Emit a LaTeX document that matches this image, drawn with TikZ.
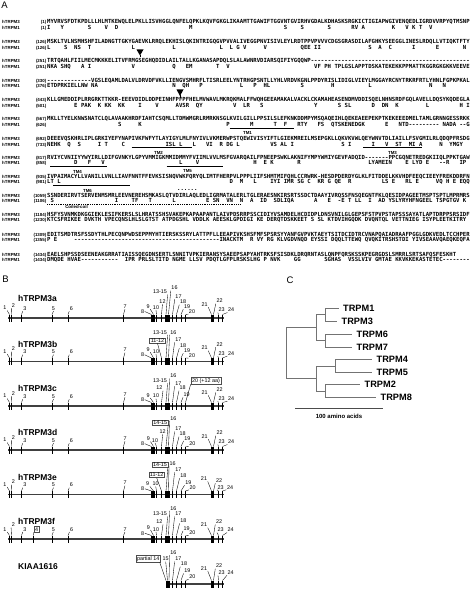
\documentclass[tikz,border=0pt]{standalone}
\usepackage{fontspec}
\setmainfont{Liberation Sans}
\newfontfamily\seqfam{DejaVu Sans Mono}[Ligatures=TeXOff]

% one block of the alignment: id, baselines, start numbers, hTRPM3 residues, hTRPM1 differences
\newcommand\seqrow[7]{%
  \node[rowlab] (#1-t3) at (2,#2) {hTRPM3};
  \node[rowlab] (#1-t1) at (2,#3) {hTRPM1};
  \node[numlab] (#1-n3) at (46.5,#2) {(#4)};
  \node[numlab] (#1-n1) at (46.5,#3) {(#5)};
  \node[seq] (#1-m3) at (47,#2) {#6};
  \foreach \i/\seg in {#7}
    \node[seq] (#1-d\i) at (47+3.38*\i,#3) {\seg};
}
% gene line with exons, exon tops named id-k
\newcommand\genrow[2]{%
  \draw[gene] (8,#2) -- (224,#2);
  \foreach \k/\x in {1/9.5,2/11.5,3/21.5,5/52,6/68,7/123.5,8/151.5,9/153.5,10/156.5,12/161.5,13/166,16/168.5,17/172.5,18/176.5,19/181,20/185.5,21/211.5,22/213.5,23/218.5,24/222.5}
    {\coordinate (#1-\k) at (\x,#2-3.5);}
  \foreach \x in {9.5,11.5,21.5,52,68,123.5,156.5,161.5,172.5,176.5,181,185.5,218.5,222.5}
    {\draw[exon] (\x,#2-3.5) -- (\x,#2+3.5);}
  \fill (150.7,#2-3.5) rectangle (154.5,#2+3.5);
  \fill (165,#2-3.5) rectangle (169.5,#2+3.5);
  \fill (210.7,#2-3.5) rectangle (214.3,#2+3.5);
}
% exon numbers: key/text/x/dy/anchor
\newcommand\exlab[3]{%
  \foreach \k/\lbl/\x/\dy/\an in {#3}
    {\node[exnum] (#1-l\k) at (\x,#2+\dy) {\lbl};
     \draw[lead] (#1-\k) -- (#1-l\k.\an);}
}
\newcommand\leftlabs[2]{\exlab{#1}{#2}{1/1/5/-10/south east,2/2/13.5/-12.5/south west,3/3/25/-9.5/south west,5/5/53.5/-9.5/south,6/6/71.5/-9.5/south west,7/7/125/-11.5/south}}

\begin{document}
\begin{tikzpicture}[x=1pt,y=-1pt,
  panel/.style={font=\fontsize{9.5}{9.5}\selectfont, inner sep=0pt},
  seq/.style={font=\seqfam\bfseries\fontsize{5.615}{6}\selectfont, inner sep=0pt, anchor=base west},
  rowlab/.style={font=\bfseries\fontsize{4.4}{4.4}\selectfont, inner sep=0pt, anchor=base west},
  numlab/.style={rowlab, anchor=base east},
  tmlab/.style={font=\bfseries\fontsize{4.4}{4.4}\selectfont, inner sep=0pt},
  uline/.style={line width=0.6pt},
  gene/.style={line width=1.6pt, black!75},
  exon/.style={line width=0.8pt},
  lead/.style={line width=0.35pt},
  exnum/.style={font=\fontsize{5.4}{5.4}\selectfont, inner sep=0.5pt},
  exbox/.style={exnum, draw=black!70, line width=0.4pt, inner xsep=1.2pt, inner ysep=0.8pt},
  iso/.style={font=\bfseries\fontsize{8.5}{8.5}\selectfont, anchor=west, inner sep=0pt},
  branch/.style={draw=black!55, line width=0.6pt},
  leaf/.style={font=\bfseries\fontsize{9.2}{9.2}\selectfont, anchor=west, inner xsep=4.5pt, inner ysep=0pt}]
\useasboundingbox (0,0) rectangle (474,591);

% ---------------- panel A: alignment
\node[panel] (A) at (4.5,5) {A};
\seqrow{r1}{23.7}{29.3}{1}{1}{MYVRVSFDTKPDLLLHLMTKEWQLELPKLLISVHGGLQNFELQPKLKQVFGKGLIKAAMTTGAWIFTGGVNTGVIRHVGDALKDHASKSRGKICTIGIAPWGIVENQEDLIGRDVVRPYQTMSNP}{0/I,4/Y,12/S,17/V,20/D,42/M,70/S,75/S,83/S,90/RV,93/A,102/K,106/V,108/K,110/T,113/V}
\seqrow{r2}{43.7}{49.3}{126}{126}{MSKLTVLNSMHSHFILADNGTTGKYGAEVKLRRQLEKHISLQKINTRIGQGVPVVALIVEGGPNVISIVLEYLRDTPPVPVVVCDGSGRASDILAFGHKYSEEGGLINESLRDQLLVTIQKTFTY}{0/L,5/S,8/NS,12/T,25/L,37/L,51/L,54/L,56/G,58/V,64/V,75/QEE,79/II,95/S,98/A,101/C,108/I,115/E,123/N}
\seqrow{r3}{63}{68.7}{251}{251}{TRTQAHLFIILMECMKKKELITVFRMGSEGHQDIDLAILTALLKGANASAPDQLSLALAWNRVDIARSQIFIYGQQWP-----------------------------------------------}{0/NKA,4/SHQ,10/A,12/I,25/V,37/Q,41/EM,50/T,53/V,79/VF,82/PH,85/TPLGSLAPPTDSKATEKEKKPPMATTKGGRGKGKKVEEVE}
\seqrow{r4}{82.3}{88}{330}{376}{-------------VGSLEQAMLDALVLDRVDFVKLLIENGVSMHRFLTISRLEELYNTRHGPSNTLLYHLVRDVKGNLPPDYRISLIDIGLVIEYLMGGAYRCNYTRKRFRTLYHNLFGPKPKAL}{0/ETDPRKIELLNW,13/NA,37/N,40/QH,45/P,57/L,61/P,64/HL,75/S,84/H,95/L,113/N,117/N}
\seqrow{r5}{102}{107.7}{443}{501}{KLLGMEDDIPLRRGRKTTKKR-EEEVDIDLDDPEINHFPFPFHELMVWAVLMKRQKMALFFWQHGEEAMAKALVACKLCKAMAHEASENDMVDDISQELNHNSRDFGQLAVELLDQSYKQDEGLA}{8/E,10/PAK,15/K,17/KK,21/KK,27/I,32/V,38/AVSR,44/QY,55/V,58/LR,63/S,79/Y,86/S,88/SL,96/D,99/DN,103/K,112/L,122/H,124/I}
\seqrow{r6}{121}{127}{567}{626}{MKLLTYELKNWSNATCLQLAVAAKHRDFIAHTCSQMLLTDMWMGRLRMRKNSGLKVILGILLPPSILSLEFKNKDDMPYMSQAQEIHLQEKEAEEPEKPTKEKEEEDMELTAMLGRNNGESSRKK}{21/S,27/K,53/P,60/M,67/T,70/F,74/RTY,80/FS,84/QTSKENEDGK,100/E,104/NTD---------,117/NADA,122/--,124/G}
\seqrow{r7}{140.3}{146.3}{692}{733}{DEEEVQSKHRLIPLGRKIYEFYNAPIVKFWFYTLAYIGYLMLFNYIVLVKMERWPSTQEWIVISYIFTLGIEKMREILMSEPGKLLQKVKVWLQEYWNVTDLIAILLFSVGMILRLQDQPFRSDG}{0/NEHK,6/Q,9/S,15/I,17/T,22/C,35/ISL,39/L,43/L,47/VI,51/R,53/DG,56/L,66/VS,69/AL,72/I,87/S,89/I,96/I,100/V,103/ST,107/MI,110/A,116/N,119/YMGY}
\seqrow{r8}{159}{164.7}{817}{858}{RVIYCVNIIYYWYIRLLDIFGVNKYLGPYVMMIGKMMIDMMYFVIIMLVVLMSFGVARQAILFPNEEPSWKLAKNIFYMPYWMIYGEVFADQID-------PPCGQNETREDGKIIQLPPKTGAW}{8/D,12/F,16/V,39/L,44/V,61/H,64/E,66/K,74/R,95/LYAMEIN,106/E,108/LYD,112/E,116/--R,122/IP}
\seqrow{r9}{178}{183.7}{935}{981}{IVPAIMACYLLVANILLVNLLIAVFNNTFFEVKSISNQVWKFQRYQLIMTFHERPVLPPPLIIFSHMTMIFQHLCCRWRK-HESDPDERDYGLKLFITDDELKKVHDFEEQCIEEYFREKDDRFN}{0/LT,3/L,54/D,57/M,61/L,66/IYI,70/IMR,74/SG,77/C,80/KR,83/G,85/QE,89/R,99/LS,102/E,106/RL,109/E,115/VQ,118/H,120/E,122/EQQ}
\seqrow{r10}{197}{202.7}{1059}{1106}{SSNDERIRVTSERVENMSMRLEEVNEREHSMKASLQTVDIRLAQLEDLIGRMATALERLTGLERAESNKIRSRTSSDCTDAAYIVRQSSFNSQEGNTFKLQESIDPAGEETMSPTSPTLMPRMRS}{1/S,20/I,25/TF,30/T,37/L,47/E,49/SN,53/VN,57/N,60/A,63/ID,67/SDLIQA,79/A,83/E,86/-E,89/T,91/LL,95/I,98/AD,101/YSLYRYHFNGEEL,115/TSPGTGV,123/K}
\seqrow{r11}{216}{221.3}{1184}{1230}{HSFYSVNMKDKGGIEKLESIFKERSLSLHRATSSHSVAKEPKAPAAPANTLAIVPDSRRPSSCIDIYVSAMDELHCDIDPLDNSVNILGLGEPSFSTPVPSTAPSSSAYATLAPTDRPPSRSIDF}{0/KTCSFRIKEE,11/DVKTH,17/VPECQNSLHLSLGTST,34/ATPDGSHL,43/VDDLK,49/AEESKLGPDIGI,62/KE,65/DERQTDSKKEET,78/S,80/SL,83/KTDVIHGQDK,94/DVQNTQL,102/VETTNIEG,111/ISYPLEETKITRY}
\seqrow{r12}{236}{241.3}{1309}{1355}{EDITSMDTRSFSSDYTHLPECQNPWDSEPPMYHTIERSKSSRYLATTPFLLEEAPIVKSHSFMFSPSRSYYANFGVPVKTAEYTSITDCIDTRCVNAPQAIADRAAFPGGLGDKVEDLTCCHPER}{0/P,2/E,8/-------------------------------------------,51/INACKTM,60/R,62/VY,65/RG,68/KLVGDVNQD,78/EYSSI,84/DQQLTTEWQ,94/QVQKITRSHSTDI,108/YIVSEAAVQAEQKEQFA}
\seqrow{r13}{256}{261.3}{1434}{1434}{EAELSHPSSDSEENEAKGRRATIAISSQEGDNSERTLSNNITVPKIERANSYSAEEPSAPYAHTRKSFSISDKLDRQRNTASLQNPFQRSKSSKPEGRGDSLSMRRLSRTSAFQSFESKHT}{0/DMQDE,6/HVAE-----------,23/IPR,27/PRLSLTITD,37/NGME,42/LLSV,47/PDQTLGFPLRSKSLHG,64/P,66/NVK,73/GG,82/SGHAS,89/VSSLVIV,97/GMTAE,103/KKVKKEKASTETEC--------}

% splice-site arrowheads
\fill (136.5,49.5) -- (143.5,49.5) -- (140,55.5) -- cycle;
\draw[line width=0.5pt] (140,55) -- (140,57.5);
\fill (176.5,89.5) -- (183.5,89.5) -- (180,96) -- cycle;
\draw[line width=0.5pt] (180,95.5) -- (180,98.5);

% transmembrane segments
\draw[uline] (229.5,128.3) -- (293.5,128.3);
\node[tmlab] (tm1) at (247.5,132.5) {TM1};
\draw[uline] (131.7,147.6) -- (191.7,147.6);
\node[tmlab] (tm2) at (158.5,152.5) {TM2};
\draw[uline] (363.3,147.6) -- (421.7,147.6);
\node[tmlab] (tm3) at (392.5,152.5) {TM3};
\draw[uline] (50,166) -- (106.7,166);
\node[tmlab] (tm4) at (77.5,171.5) {TM4};
\draw[uline] (166.7,166) -- (222.7,166);
\node[tmlab] (tm5) at (187.5,171.5) {TM5};
\draw[uline] (53.3,185) -- (130,185);
\node[tmlab] (tm6) at (87.5,191) {TM6};
\node[seq] (dots) at (177,190.5) {......};

% coiled-coil region
\draw[line width=0.6pt, dash pattern=on 0.8pt off 1pt] (47,204) -- (240,204);
\node[tmlab] (cc) at (76.5,207.3) {Coiled-coil};

% ---------------- panel B: exon structures
\node[panel] (B) at (5.5,279) {B};

\node[iso] (a-name) at (18,298) {hTRPM3a};
\genrow{a}{318}
\leftlabs{a}{318}
\exlab{a}{318}{8/8/142.5/-6.5/east,9/9/148/-11.5/south east,10/10/156/-10.5/south,12/12/162.5/-16.5/south,13/13-15/160/-26/south east,16/16/174.5/-30/south west,17/17/178.5/-21.5/south west,18/18/183/-16/south west,19/19/187/-11.5/south west,20/20/192/-6.5/south west,21/21/204.5/-13.5/south east,22/22/219.5/-17/south west,23/23/221.5/-8/south west,24/24/231/-8/south west}

\node[iso] (b-name) at (18,344.3) {hTRPM3b};
\genrow{b}{361.5}
\leftlabs{b}{361.5}
\exlab{b}{361.5}{8/8/142.5/-6.7/east,9/9/148/-12/south east,10/10/156/-10/south,13/13-15/160/-29.3/south east,16/16/173.3/-29.3/south west,17/17/178.3/-21.7/south west,18/18/183/-16/south west,19/19/187/-11/south west,20/20/192/-6/south west,21/21/204.5/-13.5/south east,22/22/219.5/-17/south west,23/23/221.5/-8/south west,24/24/231/-8/south west}
\node[exbox] (b-box) at (157.5,340.5) {11-12};
\draw[lead] (b-12) -- (b-box.south);

\node[iso] (c-name) at (18,388) {hTRPM3c};
\genrow{c}{406}
\leftlabs{c}{406}
\exlab{c}{406}{8/8/142.5/-6.3/east,9/9/148/-10.7/south east,10/10/156/-10/south,12/12/159.3/-18/south east,13/13-15/160/-25.3/south east,16/16/173.3/-30/south west,17/17/178.3/-22.3/south west,18/18/182.7/-18/south west,19/19/186.7/-11.3/south west,21/21/204.5/-13.3/south east,22/22/219.5/-16.3/south west,23/23/221.5/-7.3/south west,24/24/231/-7.3/south west}
\node[exbox] (c-box) at (206,380.7) {20 (+12 aa)};
\draw[lead] (c-20) -- (c-box.south west);

\node[iso] (d-name) at (18,432) {hTRPM3d};
\genrow{d}{450}
\leftlabs{d}{450}
\exlab{d}{450}{8/8/142.5/-6.3/east,9/9/148.3/-11/south east,10/10/155/-9.7/south,12/12/162.7/-18.3/south,16/16/173.3/-31.7/south west,17/17/178.3/-21/south west,18/18/182.7/-16/south west,19/19/187.3/-11.7/south west,20/20/192.3/-6.3/south west,21/21/204.5/-13.5/south east,22/22/219.5/-17/south west,23/23/221.5/-8/south west,24/24/231/-8/south west}
\node[exbox] (d-box) at (160.3,423) {14-15};
\draw[lead] (d-13) -- ([xshift=-0.5pt]d-box.south east);

\node[iso] (e-name) at (18,477) {hTRPM3e};
\genrow{e}{494.5}
\leftlabs{e}{494.5}
\exlab{e}{494.5}{8/8/142.7/-5.7/east,9/9/147.7/-10.7/south east,10/10/155.7/-10.7/south,16/16/172.7/-31.3/south west,17/17/178.3/-24.7/south west,18/18/183.3/-19/south west,19/19/188.3/-12/south west,20/20/192.7/-7.3/south west,21/21/204/-15.7/south east,22/22/219/-14/south west,23/23/220.7/-7.3/south west,24/24/230/-7.3/south west}
\node[exbox] (e-box12) at (156.7,475) {11-12};
\draw[lead] (e-12) -- (e-box12.south);
\node[exbox] (e-box15) at (160,465) {14-15};
\draw[lead] (e-13) -- ([xshift=-0.5pt]e-box15.south east);

\node[iso] (f-name) at (18,521) {hTRPM3f};
\genrow{f}{539}
\coordinate (f-4) at (33.5,535.5);
\draw[exon] (33.5,535.5) -- (33.5,542.5);
\exlab{f}{539}{1/1/5/-9.7/south east,2/2/13.3/-14/south west,3/3/25/-9.7/south west,5/5/53.3/-9.7/south,6/6/71.7/-9.7/south west,7/7/125/-9.7/south,8/8/142.7/-5.7/east,9/9/148.3/-11.7/south east,10/10/156/-9.7/south,12/12/159.3/-17.3/south east,13/13-15/160/-25/south east,16/16/173.3/-30.7/south west,17/17/178.3/-25/south west,18/18/183.3/-18.3/south west,19/19/186.7/-10.7/south west,20/20/192.3/-6.3/south west,21/21/204/-14/south east,22/22/219/-17.3/south west,23/23/220.7/-9/south west,24/24/230.7/-9/south west}
\node[exbox] (f-box) at (36.7,529.3) {4};
\draw[lead] (f-4) -- (f-box.south west);

% partial clone
\node[iso] (k-name) at (18,567) {KIAA1616};
\draw[gene] (166,584) -- (224,584);
\foreach \k/\x in {14/166,15/167.5,16/169,17/172.5,18/176.5,19/181,20/185.5,21/211.5,22/213.5,23/218.5,24/222.5}
  {\coordinate (k-\k) at (\x,580.5);}
\foreach \x in {172.5,176.5,181,185.5,218.5,222.5}
  {\draw[exon] (\x,580.5) -- (\x,587.5);}
\fill (165.5,580.5) rectangle (169.5,587.5);
\fill (210.7,580.5) rectangle (214.3,587.5);
\exlab{k}{584}{15/15/165.7/-25/south,16/16/173.3/-31.3/south west,17/17/178.3/-25/south west,18/18/184/-20/south west,19/19/187.3/-13.3/south west,20/20/192.3/-7.3/south west,21/21/204/-15.7/south east,22/22/219/-18/south west,23/23/221.7/-11.3/south west,24/24/230.7/-11.3/south west}
\node[exbox] (k-box) at (148.3,559) {partial 14};
\draw[lead] (k-14) -- ([xshift=-1pt]k-box.south east);

% ---------------- panel C: tree
\node[panel] (C) at (290,280.5) {C};
\node[leaf] (TRPM1) at (338.5,308) {TRPM1};
\node[leaf] (TRPM3) at (337,321) {TRPM3};
\node[leaf] (TRPM6) at (352,334) {TRPM6};
\node[leaf] (TRPM7) at (352,347) {TRPM7};
\node[leaf] (TRPM4) at (372,359.7) {TRPM4};
\node[leaf] (TRPM5) at (372,372.3) {TRPM5};
\node[leaf] (TRPM2) at (360,384.7) {TRPM2};
\node[leaf] (TRPM8) at (376,397) {TRPM8};
\coordinate (n13) at (325.5,314.5);
\coordinate (n67) at (325.5,340.5);
\coordinate (nA) at (316,327.5);
\coordinate (n45) at (335,366);
\coordinate (n28) at (325,391);
\coordinate (nB) at (316.5,378);
\coordinate (root) at (286.5,350);
\draw[branch] (root) |- (nA);
\draw[branch] (root) |- (nB);
\draw[branch] (nA) |- (n13);
\draw[branch] (nA) |- (n67);
\draw[branch] (nB) |- (n45);
\draw[branch] (nB) |- (n28);
\foreach \p/\c in {n13/TRPM1,n13/TRPM3,n67/TRPM6,n67/TRPM7,n45/TRPM4,n45/TRPM5,n28/TRPM2,n28/TRPM8}
  {\draw[branch] (\p) |- (\c);}
% scale bar
\coordinate (sb-l) at (295,408.5);
\coordinate (sb-r) at (383,408.5);
\draw[line width=0.6pt, black!70] (sb-l) -- (sb-r);
\node[font=\bfseries\fontsize{6}{6}\selectfont, inner sep=0pt] (sb-t) at (339,416.5) {100 amino acids};
\end{tikzpicture}
\end{document}
